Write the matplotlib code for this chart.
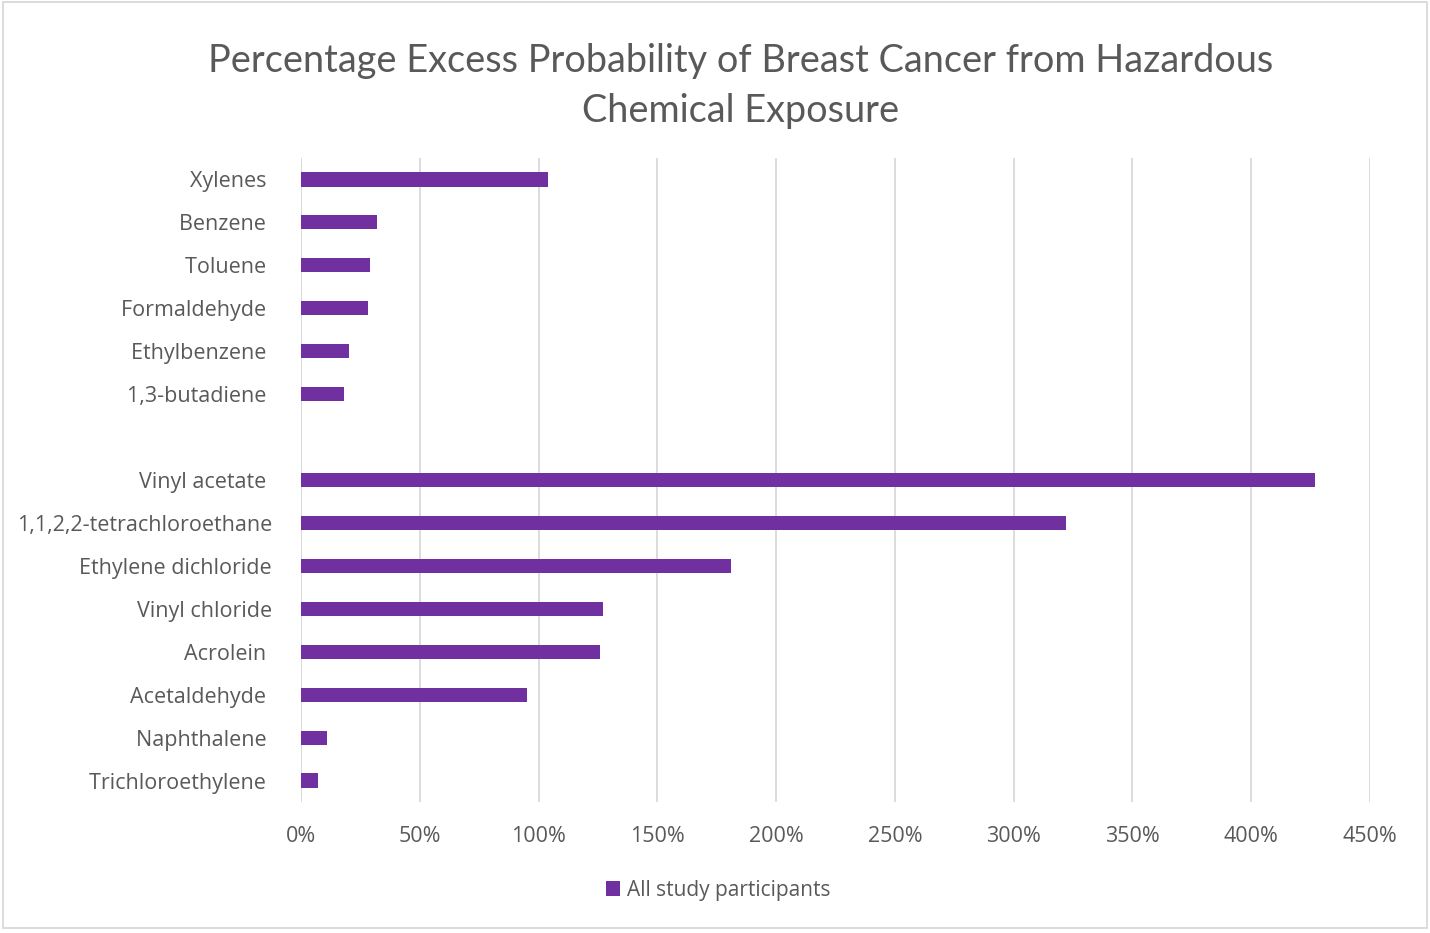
import numpy as np
import matplotlib.pyplot as plt
from matplotlib.patches import Rectangle

# categories top to bottom; the blank entry is the gap between the two groups
chemicals = ["Xylenes ", "Benzene ", "Toluene ", "Formaldehyde ", "Ethylbenzene ",
             "1,3-butadiene ", "", "Vinyl acetate ", "1,1,2,2-tetrachloroethane",
             "Ethylene dichloride", "Vinyl chloride", "Acrolein ", "Acetaldehyde ",
             "Naphthalene ", "Trichloroethylene "]
excess_pct = [104, 32, 29, 28, 20, 18, np.nan, 427, 322, 181, 127, 126, 95, 11, 7]
xticks = [0, 50, 100, 150, 200, 250, 300, 350, 400, 450]

purple = "#7030A0"
gray_txt = "#595959"
grid_c = "#D9D9D9"

fig = plt.figure(figsize=(14.3, 9.33), dpi=100)
ax = fig.add_axes([0.2105, 0.1404, 0.7475, 0.6903])

ypos = np.arange(len(chemicals))
bars = ax.barh(ypos, excess_pct, height=0.33, color=purple,
               label="All study participants", zorder=3)

ax.set_ylim(len(chemicals) - 0.5, -0.5)
ax.set_xlim(0, 450)
ax.set_yticks(ypos)
ax.set_yticklabels(chemicals, fontfamily="Open Sans", fontsize=15.5, color=gray_txt)
ax.set_xticks(xticks)
ax.set_xticklabels([f"{t}%" for t in xticks], fontfamily="Open Sans",
                   fontsize=15.5, color=gray_txt)
ax.tick_params(axis="y", length=0, pad=21)
ax.tick_params(axis="x", length=0, pad=17)
ax.grid(axis="x", color=grid_c, linewidth=1.3, zorder=0)
for s in ax.spines.values():
    s.set_visible(False)
ax.axvline(0, color=grid_c, linewidth=1.3, zorder=1)

fig.text(0.518, 0.908,
         "Percentage Excess Probability of Breast Cancer from Hazardous\nChemical Exposure",
         ha="center", va="center", fontfamily="Lato", fontsize=27.3, color=gray_txt,
         linespacing=1.46)

fig.legend(handles=[bars], labels=["All study participants"], loc="center",
           bbox_to_anchor=(0.502, 0.046), frameon=False, handlelength=0.7,
           handleheight=0.7, handletextpad=0.3,
           prop={"family": "Open Sans", "size": 15}, labelcolor=gray_txt)

fig.add_artist(Rectangle((0.002, 0.005), 0.996, 0.993, transform=fig.transFigure,
                         fill=False, edgecolor="#D9D9D9", linewidth=1.3))

fig.savefig("out.png", dpi=100)
